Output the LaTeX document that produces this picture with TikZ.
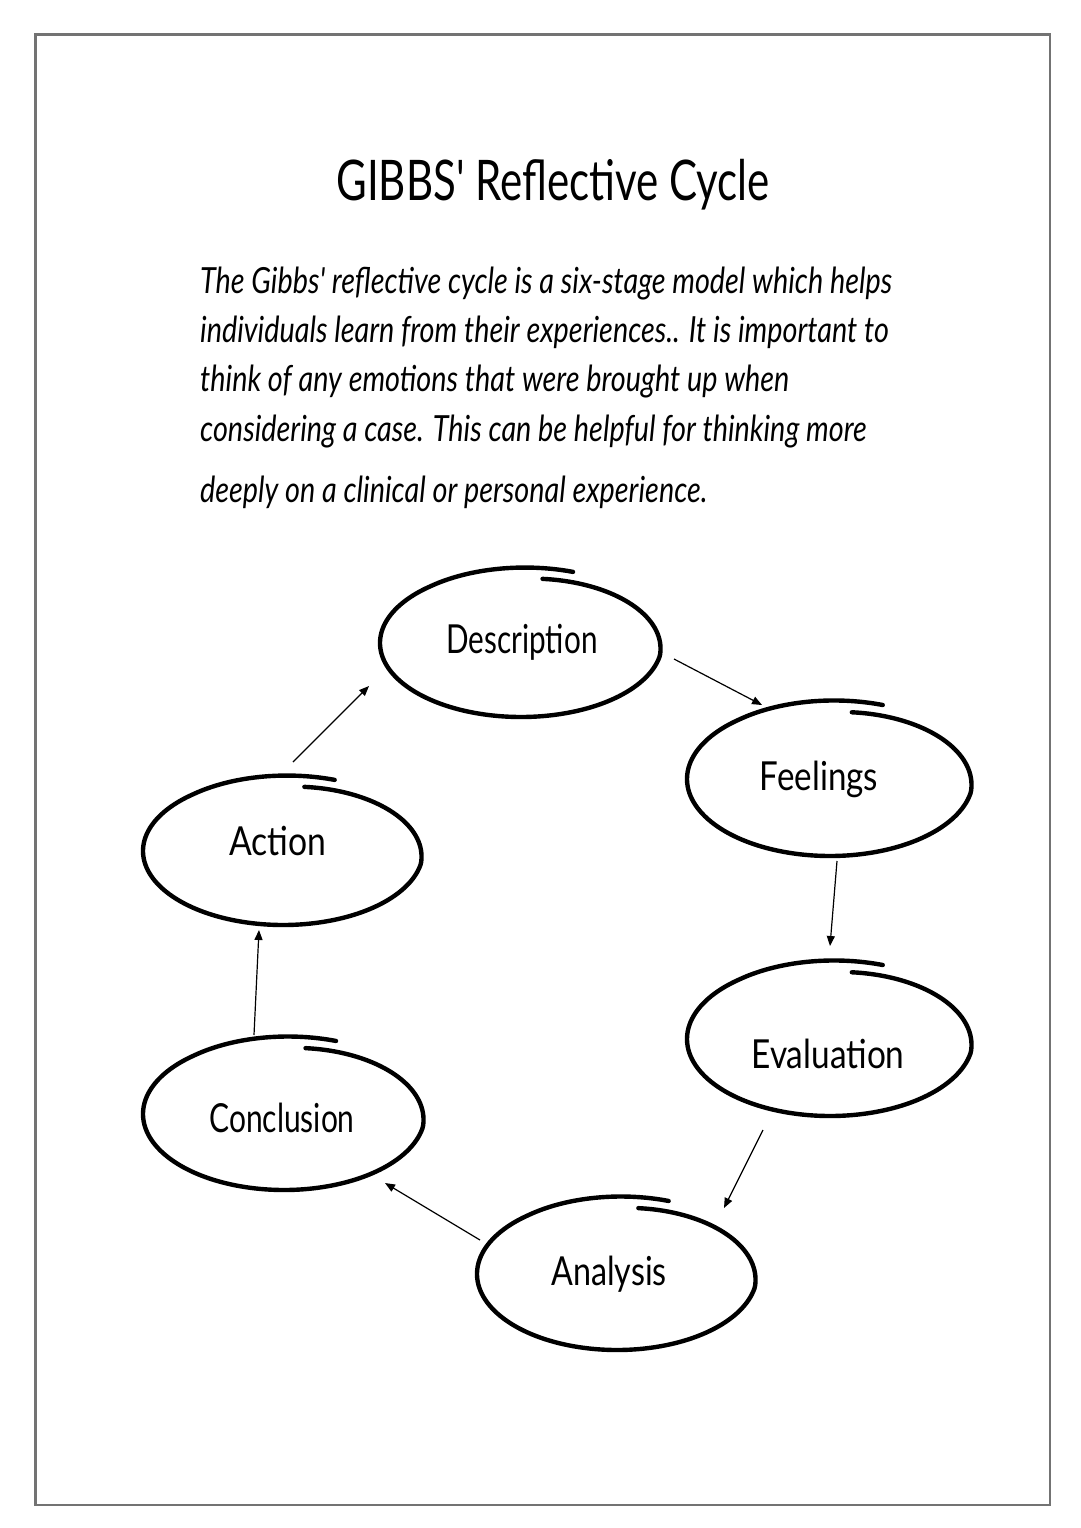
\documentclass[tikz,border=0pt]{standalone}
\usepackage{fontspec}
\newfontfamily\hand[FakeStretch=0.72]{Lato}
\newfontfamily\handbody[FakeStretch=0.8]{Lato}
\newfontfamily\handtitle[FakeStretch=0.75]{Lato}
\usetikzlibrary{arrows.meta}
\begin{document}
\begin{tikzpicture}[x=1pt,y=-1pt,
  declare function={rr(\t)=1-0.12*max(0,\t+10)/90+0.03*max(0,-230-\t)/62;},
  border/.style={draw=black!55,line width=2.5pt},
  loopstroke/.style={draw=black,line width=4.4pt,line cap=round,line join=round},
  conn/.style={draw=black,line width=1.2pt,-{Triangle[length=10pt,width=8pt]}},
  titletext/.style={font=\handtitle\fontsize{56}{64}\selectfont,anchor=base,inner sep=0pt},
  bodytext/.style={font=\handbody\itshape\fontsize{36}{42}\selectfont,anchor=base west,inner sep=0pt},
  stagetext/.style={font=\hand\fontsize{40}{48}\selectfont,anchor=base,inner sep=0pt}]
\useasboundingbox (0,0) rectangle (1080,1528);
\fill[white] (0,0) rectangle (1080,1528);
\draw[border] (35.5,34.5) rectangle (1050,1505);
\newcommand\handloop[4]{\draw[loopstroke] plot[domain=80:-291,samples=160,smooth] ({#1+#3*rr(\x)*cos(\x)},{#2-#4*rr(\x)*sin(\x)});}
% title and body
\node[titletext] (title) at (553,200) {GIBBS' Reflective Cycle};
\node[bodytext] (l1) at (200,293) {The Gibbs' reflective cycle is a six-stage model which helps};
\node[bodytext] (l2) at (200,342) {individuals learn from their experiences.. It is important to};
\node[bodytext] (l3) at (200,391) {think of any emotions that were brought up when};
\node[bodytext] (l4) at (200,441) {considering a case. This can be helpful for thinking more};
\node[bodytext] (l5) at (200,502) {deeply on a clinical or personal experience.};
% loops
\handloop{521}{643}{141}{74}
\handloop{830}{779}{143}{77}
\handloop{283}{851}{140}{74}
\handloop{830}{1039}{143}{77}
\handloop{284}{1114}{141}{76}
\handloop{617}{1274}{140}{76}
% labels
\node[stagetext] (desc) at (522,653) {\scalebox{1.03}[1]{Description}};
\node[stagetext] (feel) at (819,790) {\scalebox{1.15}[1]{Feelings}};
\node[stagetext] (act) at (278,855) {\scalebox{1.17}[1]{Action}};
\node[stagetext] (eval) at (828,1068) {\scalebox{1.16}[1]{Evaluation}};
\node[stagetext] (conc) at (282,1132) {\scalebox{1.04}[1]{Conclusion}};
\node[stagetext] (anal) at (609,1285) {\scalebox{1.12}[1]{Analysis}};
% connector ends
\coordinate (a1s) at (674,659); \coordinate (a1e) at (762,705);
\coordinate (a2s) at (837,861); \coordinate (a2e) at (830,946);
\coordinate (a3s) at (763,1130); \coordinate (a3e) at (724,1208);
\coordinate (a4s) at (480,1240); \coordinate (a4e) at (385,1183);
\coordinate (a5s) at (254,1035); \coordinate (a5e) at (259,930);
\coordinate (a6s) at (293,762); \coordinate (a6e) at (369,686);
\draw[conn] (a1s) -- (a1e);
\draw[conn] (a2s) -- (a2e);
\draw[conn] (a3s) -- (a3e);
\draw[conn] (a4s) -- (a4e);
\draw[conn] (a5s) -- (a5e);
\draw[conn] (a6s) -- (a6e);
\end{tikzpicture}
\end{document}
